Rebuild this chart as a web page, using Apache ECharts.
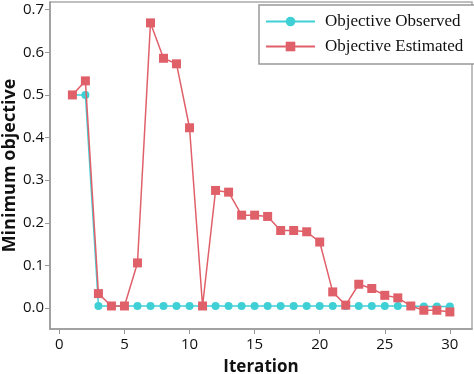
<!DOCTYPE html>
<html>
<head>
<meta charset="utf-8">
<script src="https://cdn.jsdelivr.net/npm/echarts@6/dist/echarts.min.js"></script>
<style>
html,body{margin:0;padding:0;background:#fff;}
#chart{width:474px;height:374px;}
</style>
</head>
<body>
<div id="chart"></div>
<script>
const iterations = [1,2,3,4,5,6,7,8,9,10,11,12,13,14,15,16,17,18,19,20,21,22,23,24,25,26,27,28,29,30];
const observed = [0.5,0.5,0.005,0.005,0.005,0.005,0.005,0.005,0.005,0.005,0.005,0.005,0.005,0.005,0.005,0.005,0.005,0.005,0.005,0.005,0.005,0.005,0.005,0.005,0.005,0.005,0.005,0.004,0.004,0.004];
const estimated = [0.5,0.533,0.034,0.005,0.005,0.106,0.669,0.586,0.573,0.423,0.005,0.276,0.272,0.218,0.218,0.215,0.182,0.182,0.179,0.155,0.038,0.007,0.056,0.046,0.030,0.024,0.005,-0.005,-0.005,-0.009];
const xTicks = [0,5,10,15,20,25,30];
const yTicks = [0,0.1,0.2,0.3,0.4,0.5,0.6,0.7];
const seriesNames = ['Objective Observed','Objective Estimated'];

const chart = echarts.init(document.getElementById('chart'), null, {renderer:'canvas'});
const tickFont = {fontFamily:'Open Sans', fontSize:15, color:'#111'};
chart.setOption({
  animation:false,
  grid:{left:50, top:2, right:2, bottom:45, show:true, borderColor:'#aaa', borderWidth:1.5, containLabel:false, outerBoundsMode:'none'},
  legend:{
    orient:'vertical', left:259, top:5,
    data:seriesNames,
    borderColor:'#999', borderWidth:1.5, backgroundColor:'#fff',
    padding:[8,19,9,6], itemGap:8, itemWidth:49, itemHeight:12,
    textStyle:{fontFamily:'Liberation Serif', fontSize:17, color:'#111', padding:[0,0,0,5]}
  },
  xAxis:{
    type:'value', min:-0.72, max:31.7,
    name:'Iteration', nameLocation:'middle', nameGap:30, nameMoveOverlap:false,
    nameTextStyle:{fontFamily:'Open Sans', fontSize:17, fontWeight:'bold', color:'#111'},
    axisLine:{show:true, onZero:false, lineStyle:{color:'#999', width:1.5}},
    axisTick:{show:true, length:5, customValues:xTicks, lineStyle:{color:'#999', width:1}},
    axisLabel:{customValues:xTicks, margin:8, ...tickFont},
    splitLine:{show:false}
  },
  yAxis:{
    type:'value', min:-0.049, max:0.718,
    name:'Minimum objective', nameLocation:'middle', nameGap:31, nameMoveOverlap:false,
    nameTextStyle:{fontFamily:'Open Sans', fontSize:18, fontWeight:'bold', color:'#111'},
    axisLine:{show:true, onZero:false, lineStyle:{color:'#999', width:1.5}},
    axisTick:{show:true, length:5, customValues:yTicks, lineStyle:{color:'#999', width:1}},
    axisLabel:{customValues:yTicks, margin:6, formatter:v=>v.toFixed(1), ...tickFont},
    splitLine:{show:false}
  },
  series:[
    {name:seriesNames[0], type:'line', data:iterations.map((x,i)=>[x,observed[i]]),
     symbol:'circle', symbolSize:8, showAllSymbol:true,
     itemStyle:{color:'#3fd0d6'}, lineStyle:{color:'#3fd0d6', width:1.5}, z:2},
    {name:seriesNames[1], type:'line', data:iterations.map((x,i)=>[x,estimated[i]]),
     symbol:'rect', symbolSize:9, showAllSymbol:true,
     itemStyle:{color:'#e0606a'}, lineStyle:{color:'#e0606a', width:1.5}, z:3}
  ]
});
</script>
</body>
</html>
